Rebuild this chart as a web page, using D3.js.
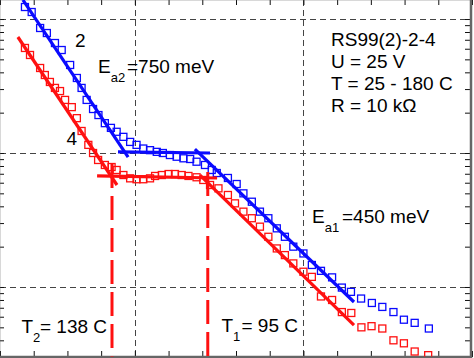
<!DOCTYPE html>
<html><head><meta charset="utf-8">
<script src="https://cdn.jsdelivr.net/npm/d3@7"></script>
<style>html,body{margin:0;padding:0;background:#fff;overflow:hidden}</style>
</head><body><div id="chart"></div>
<script>
// x: 1000/T (1/K), y: log-scale quantity (arbitrary decades)
const xTickValues = d3.range(21, 36).map(d => d / 10);
const xGridValues = [2.5, 3.0];
const yGridValues = [1, 10, 100];

const blueX = [2.174,2.194,2.219,2.239,2.263,2.283,2.308,2.328,2.342,2.357,2.376,2.392,2.411,2.429,2.446,2.466,2.486,2.505,2.525,2.545,2.565,2.583,2.604,2.624,2.644,2.664,2.683,2.708,2.728,2.743,2.776,2.802,2.822,2.847,2.871,2.896,2.921,2.945,2.970,3.000,3.025,3.052,3.085,3.114,3.141,3.171,3.203,3.234,3.267,3.298,3.330,3.372];
const blueY = [122.9,112.8,85.7,78.6,66.2,58.7,45.4,36.3,30.6,24.9,21.3,19.2,16.7,15.4,14.4,13.2,12.1,11.5,10.8,10.5,10.2,10.0,9.66,9.38,9.13,9.02,8.61,8.14,7.47,7.09,6.51,5.87,5.00,4.33,3.65,3.26,2.74,2.37,2.00,1.78,1.46,1.32,1.18,0.99,0.92,0.82,0.76,0.71,0.65,0.57,0.54,0.49];

const redX = [2.174,2.189,2.219,2.233,2.248,2.263,2.278,2.293,2.313,2.328,2.342,2.362,2.376,2.391,2.411,2.431,2.446,2.466,2.486,2.505,2.525,2.545,2.560,2.580,2.600,2.619,2.639,2.659,2.683,2.703,2.723,2.748,2.776,2.797,2.822,2.847,2.871,2.896,2.921,2.945,2.970,3.000,3.025,3.052,3.085,3.114,3.142,3.172,3.202,3.234,3.267,3.298,3.330,3.370];
const redY = [60.8,53.9,43.1,38.2,33.9,30.6,29.0,24.9,22.0,18.2,14.6,11.5,10.0,8.87,8.14,7.86,7.47,6.85,6.47,6.37,6.37,6.47,6.74,6.85,6.97,6.97,6.85,6.74,6.59,6.29,5.77,5.45,4.86,4.21,3.65,3.26,2.82,2.37,1.94,1.73,1.50,1.30,1.19,0.85,0.80,0.65,0.64,0.50,0.51,0.49,0.40,0.38,0.33,0.31];

// fitted straight segments [start, end]
const blueFitX = [[2.168,2.480],[2.450,2.723],[2.678,3.150]];
const blueFitY = [[138.7,9.33],[10.2,10.0],[10.7,0.773]];
const redFitX  = [[2.153,2.447],[2.388,2.744],[2.693,3.150]];
const redFitY  = [[73.4,5.77],[6.74,6.51],[6.85,0.52]];

// transition temperatures (C) and marker top values
const markerT = [138, 95];
const markerTop = [8.28, 7.21];

const W = 474, H = 358;
const fLeft = -1, fRight = 471, fTop = -1, fBottom = 357;

const x = d3.scaleLinear().domain([2.1, 3.5]).range([0, 472]);
const y = d3.scaleLog().domain([0.3055, 138.65]).range([356, 0]);

const svg = d3.select("#chart").append("svg").attr("width", W).attr("height", H)
  .style("font-family", "'Liberation Sans', Arial, Helvetica, sans-serif");

svg.append("defs").append("clipPath").attr("id", "clip")
  .append("rect").attr("x", 0).attr("y", 0).attr("width", fRight).attr("height", fBottom - 0.5);

// grid
const grid = svg.append("g").attr("stroke", "#444").attr("stroke-width", 1).attr("stroke-dasharray", "6,4");
grid.selectAll(".gx").data(xGridValues).join("line")
  .attr("x1", d => Math.round(x(d)) + 0.5).attr("x2", d => Math.round(x(d)) + 0.5)
  .attr("y1", 0).attr("y2", fBottom);
grid.selectAll(".gy").data(yGridValues).join("line")
  .attr("y1", d => Math.round(y(d)) + 0.5).attr("y2", d => Math.round(y(d)) + 0.5)
  .attr("x1", 0).attr("x2", fRight);

// axes ticks (no labels)
const yTicks = y.ticks();
function noDomain(g) { g.select(".domain").remove(); g.selectAll("text").remove(); g.selectAll("line").attr("stroke", "#111"); }
svg.append("g").attr("transform", `translate(0,${fTop})`)
  .call(d3.axisBottom(x).tickValues(xTickValues).tickSize(6).tickFormat("")).call(noDomain);
svg.append("g").attr("transform", `translate(0,${fBottom})`)
  .call(d3.axisTop(x).tickValues(xTickValues).tickSize(6).tickFormat("")).call(noDomain);
svg.append("g").attr("transform", `translate(${fLeft},0)`)
  .call(d3.axisRight(y).tickValues(yTicks).tickSize(5).tickFormat("")).call(noDomain);
svg.append("g").attr("transform", `translate(${fRight},0)`)
  .call(d3.axisLeft(y).tickValues(yTicks).tickSize(6).tickFormat("")).call(noDomain);

// frame
svg.append("rect").attr("x", fLeft).attr("y", fTop).attr("width", fRight - fLeft).attr("height", fBottom - fTop)
  .attr("fill", "none").attr("stroke", "#666").attr("stroke-width", 2.5);

const plot = svg.append("g").attr("clip-path", "url(#clip)");

const BLUE = "#0a0aff", RED = "#ff1010";

function drawSeries(xs, ys, color) {
  const s = 7;
  plot.append("g").selectAll("rect").data(xs.map((d, i) => [d, ys[i]])).join("rect")
    .attr("x", d => x(d[0]) - s / 2).attr("y", d => y(d[1]) - s / 2)
    .attr("width", s).attr("height", s)
    .attr("fill", "none").attr("stroke", color).attr("stroke-width", 1.3);
}
function drawFits(fx, fy, color) {
  const line = d3.line().x(d => x(d[0])).y(d => y(d[1]));
  fx.forEach((seg, i) => {
    plot.append("path").attr("d", line([[seg[0], fy[i][0]], [seg[1], fy[i][1]]]))
      .attr("fill", "none").attr("stroke", color).attr("stroke-width", 3.2);
  });
}
drawSeries(blueX, blueY, BLUE);
drawSeries(redX, redY, RED);
drawFits(blueFitX, blueFitY, BLUE);
drawFits(redFitX, redFitY, RED);

// transition markers
markerT.forEach((t, i) => {
  const xv = 1000 / (t + 273.15);
  plot.append("line").attr("x1", x(xv)).attr("x2", x(xv))
    .attr("y1", y(markerTop[i])).attr("y2", fBottom + 5)
    .attr("stroke", RED).attr("stroke-width", 3).attr("stroke-dasharray", "24,8");
});

// text
const txt = svg.append("g").attr("fill", "#000").attr("font-size", 19);
txt.append("text").attr("x", 75).attr("y", 47).text("2");
txt.append("text").attr("x", 66.5).attr("y", 145).text("4");

function subLabel(x0, yb, main, sub, rest, xRest) {
  const t = txt.append("text").attr("x", x0).attr("y", yb);
  t.append("tspan").text(main);
  t.append("tspan").attr("font-size", 13).attr("dy", 9).text(sub);
  t.append("tspan").attr("x", xRest).attr("y", yb).text(rest);
}
subLabel(98, 73, "E", "a2", "=750 meV", 127);
subLabel(312, 223, "E", "a1", "=450 meV", 342);
subLabel(21.5, 333, "T", "2", "= 138 C", 40);
subLabel(221.5, 332, "T", "1", "= 95 C", 241.5);

const infoLines = ["RS99(2)-2-4", "U = 25 V", "T = 25 - 180 C", "R = 10 kΩ"];
const infoY = [46, 68, 90, 112];
txt.selectAll(".info").data(infoLines).join("text")
  .attr("x", 331).attr("y", (d, i) => infoY[i]).text(d => d);
</script></body></html>
